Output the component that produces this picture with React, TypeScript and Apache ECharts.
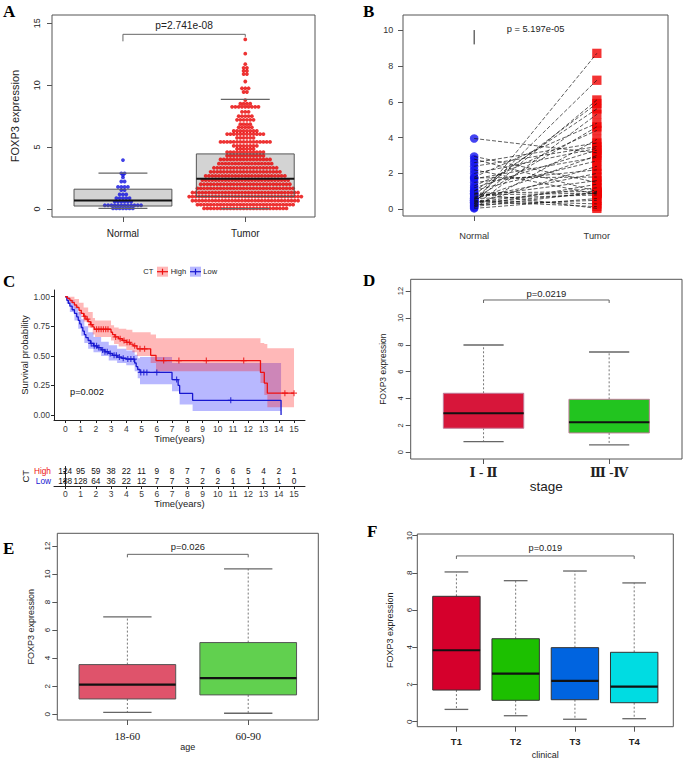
import React, { useEffect, useRef } from "react";
import * as echarts from "echarts";

const SANS = "Liberation Sans, Arial, Helvetica, sans-serif";
const SERIF = "Liberation Serif, DejaVu Serif, Noto Sans CJK SC, serif";

// ---------- A: FOXP3 expression, normal vs tumor (swarm rows as [value, count]) ----------
const groupsA = ["Normal", "Tumor"];
const normalRowsA: [number, number][] = [
  [0.05, 7], [0.3, 12], [0.6, 6], [0.88, 5], [1.18, 3], [1.53, 2], [1.78, 4],
  [2.22, 2], [2.55, 1], [2.75, 1], [2.88, 2], [3.95, 1],
];
const tumorRowsA: [number, number][] = [
  [0.05, 26], [0.35, 30], [0.67, 33], [1.0, 35], [1.33, 33], [1.67, 30], [2.0, 28],
  [2.34, 27], [2.67, 25], [3.0, 22], [3.33, 20], [3.66, 17], [4.0, 16], [4.3, 12],
  [4.6, 12], [4.85, 6], [5.1, 8], [5.42, 16], [5.75, 6], [6.05, 12], [6.3, 8],
  [6.6, 5], [6.85, 4], [7.2, 6], [7.5, 5], [7.85, 3], [8.25, 9], [8.5, 4], [8.8, 1],
  [9.45, 2], [9.75, 3], [10.3, 1], [10.9, 2], [11.15, 2], [11.4, 2], [11.7, 1],
  [12.55, 1], [13.7, 1],
];
// [whisker low, Q1, median, Q3, whisker high]
const boxStatsA = [
  [0.05, 0.24, 0.68, 1.6, 2.9],
  [0.03, 1.0, 2.45, 4.45, 8.85],
];
const yTicksA = [0, 5, 10, 15];
const pTextA = "p=2.741e-08";

// ---------- B: paired normal / tumor samples ----------
const groupsB = ["Normal", "Tumor"];
const pairedNormalB = [
  0.3, 0.5, 0.4, 0.8, 1.0, 0.2, 1.8, 0.6, 3.95, 2.8, 2.6, 2.4, 2.0, 1.7, 1.75, 1.5,
  1.2, 1.05, 0.9, 0.8, 0.7, 0.6, 0.5, 0.45, 0.4, 0.35, 0.3, 0.25, 0.2, 0.15, 0.1,
  0.05, 2.95, 2.2, 1.3, 0.55, 0.65, 0.9,
];
const pairedTumorB = [
  8.7, 7.2, 6.1, 5.9, 5.6, 5.3, 4.8, 4.6, 3.15, 1.0, 3.7, 3.5, 3.4, 2.9, 1.8, 2.2,
  3.3, 2.7, 1.0, 0.9, 1.6, 0.8, 0.3, 0.15, 1.2, 0.9, 2.4, 0.5, 1.4, 0.95, 3.9,
  0.6, 1.5, 0.85, 4.4, 3.0, 2.0, 0.05,
];
const yTicksB = [0, 2, 4, 6, 8, 10];
const pTextB = "p = 5.197e-05";

// ---------- C: Kaplan-Meier by CT level ----------
const kmHigh: [number, number][] = [
  [0, 1], [0.15, 0.985], [0.3, 0.97], [0.45, 0.95], [0.6, 0.93], [0.75, 0.91],
  [0.9, 0.885], [1.05, 0.86], [1.2, 0.835], [1.35, 0.81], [1.5, 0.79], [1.65, 0.765],
  [1.8, 0.745], [1.9, 0.725], [3.0, 0.7], [3.1, 0.68], [3.25, 0.66], [3.5, 0.645],
  [3.75, 0.63], [4.0, 0.615], [4.25, 0.6], [4.45, 0.585], [4.7, 0.56], [5.6, 0.505],
  [5.95, 0.46], [12.8, 0.36], [13.05, 0.27], [13.25, 0.185], [15, 0.185],
];
const kmLow: [number, number][] = [
  [0, 1], [0.1, 0.97], [0.2, 0.945], [0.3, 0.92], [0.45, 0.89], [0.6, 0.86],
  [0.75, 0.83], [0.85, 0.8], [0.95, 0.77], [1.05, 0.74], [1.15, 0.71], [1.25, 0.68],
  [1.35, 0.655], [1.5, 0.63], [1.65, 0.605], [1.85, 0.585], [2.1, 0.57], [2.35, 0.55],
  [2.6, 0.535], [2.85, 0.52], [3.1, 0.505], [3.4, 0.49], [3.7, 0.48], [4.0, 0.473],
  [4.55, 0.44], [4.65, 0.41], [4.75, 0.385], [4.9, 0.36], [7.0, 0.3], [7.4, 0.25],
  [7.5, 0.183], [8.35, 0.124], [14.15, 0.0],
];
// confidence bands: [time, lower, upper]
const bandHigh: [number, number, number][] = [
  [0, 1, 1], [0.3, 0.95, 1.0], [0.6, 0.9, 0.98], [0.9, 0.85, 0.95], [1.2, 0.79, 0.91],
  [1.5, 0.74, 0.87], [1.8, 0.68, 0.82], [1.95, 0.66, 0.8], [3.0, 0.63, 0.76],
  [3.2, 0.6, 0.74], [3.5, 0.58, 0.73], [4.0, 0.55, 0.72], [4.4, 0.53, 0.7],
  [4.7, 0.5, 0.7], [5.6, 0.44, 0.68], [5.95, 0.37, 0.65], [12.8, 0.27, 0.61],
  [13.05, 0.17, 0.6], [13.25, 0.065, 0.565],
];
const bandHighEnd = 15;
const bandLow: [number, number, number][] = [
  [0, 1, 1], [0.1, 0.94, 1.0], [0.3, 0.87, 0.97], [0.6, 0.8, 0.92], [0.85, 0.73, 0.87],
  [1.05, 0.67, 0.81], [1.25, 0.61, 0.75], [1.5, 0.56, 0.7], [1.85, 0.53, 0.66],
  [2.35, 0.5, 0.62], [2.85, 0.46, 0.59], [3.4, 0.44, 0.56], [4.0, 0.42, 0.545],
  [4.55, 0.37, 0.51], [4.75, 0.31, 0.48], [4.9, 0.26, 0.49], [7.0, 0.2, 0.44],
  [7.5, 0.09, 0.44], [8.35, 0.035, 0.44],
];
const bandLowEnd = 14.15;
const censorHigh = [
  1.25, 1.45, 1.7, 2.05, 2.2, 2.35, 2.5, 2.65, 2.8, 3.3, 3.6, 3.85, 4.05, 4.2, 4.55,
  4.9, 5.2, 6.45, 7.45, 9.25, 11.7, 14.4, 15.0,
];
const censorLow = [
  1.7, 1.9, 2.05, 2.2, 2.45, 2.6, 2.75, 2.95, 3.2, 3.35, 3.55, 3.8, 4.1, 4.3, 4.5,
  4.95, 5.15, 5.35, 6.0, 7.3, 10.85,
];
const years = [0, 1, 2, 3, 4, 5, 6, 7, 8, 9, 10, 11, 12, 13, 14, 15];
const riskHigh = [124, 95, 59, 38, 22, 11, 9, 8, 7, 7, 6, 6, 5, 4, 2, 1];
const riskLow = [188, 128, 64, 36, 22, 12, 7, 7, 3, 2, 2, 1, 1, 1, 1, 0];
const survTicks = [0, 0.25, 0.5, 0.75, 1];
const pTextC = "p=0.002";

// ---------- D: by stage ----------
const stagesD = ["Ⅰ - Ⅱ", "Ⅲ -Ⅳ"];
const boxStatsD = [
  [0.79, 1.79, 2.9, 4.39, 7.98],
  [0.55, 1.44, 2.23, 3.94, 7.46],
];
const yTicksD = [0, 2, 4, 6, 8, 10, 12];
const pTextD = "p=0.0219";

// ---------- E: by age ----------
const agesE = ["18-60", "60-90"];
const boxStatsE = [
  [0.14, 1.09, 2.11, 3.54, 6.94],
  [0.07, 1.38, 2.57, 5.11, 10.36],
];
const yTicksE = [0, 2, 4, 6, 8, 10, 12];
const pTextE = "p=0.026";

// ---------- F: by T stage ----------
const clinicalF = ["T1", "T2", "T3", "T4"];
const boxStatsF = [
  [0.66, 1.7, 3.84, 6.74, 8.05],
  [0.32, 1.15, 2.58, 4.46, 7.58],
  [0.13, 1.18, 2.19, 3.98, 8.1],
  [0.16, 1.02, 1.88, 3.73, 7.46],
];
const yTicksF = [0, 2, 4, 6, 8, 10];
const pTextF = "p=0.019";

const RED = "#EE1111";
const BLUE = "#1818D0";
const FRAME = "#555";

function swarm(rows: [number, number][], center: number, step: number) {
  const pts: number[][] = [];
  for (const [v, n] of rows) {
    for (let i = 0; i < n; i++) pts.push([center + (i - (n - 1) / 2) * step, v]);
  }
  return pts;
}

function stepAt(curve: [number, number][], t: number) {
  let v = curve[0][1];
  for (const [ti, si] of curve) {
    if (ti <= t) v = si;
    else break;
  }
  return v;
}

function seg(p1: number[], p2: number[], style: any) {
  return { type: "line", shape: { x1: p1[0], y1: p1[1], x2: p2[0], y2: p2[1] }, style };
}

type BoxStyle = {
  halfW: number;
  capHalf: number;
  fills: string[];
  border: string;
  borderW: number;
  whisker: boolean;
  medianW: number;
  part: "all" | "fill" | "lines";
};

function boxSeries(axis: number, stats: number[][], s: BoxStyle, z: number) {
  return {
    type: "custom",
    xAxisIndex: axis,
    yAxisIndex: axis,
    z,
    silent: true,
    data: stats.map((r, i) => [i + 1, ...r]),
    encode: { x: 0, y: [1, 2, 3, 4, 5] },
    renderItem: (params: any, api: any) => {
      const x = api.value(0);
      const lo = api.value(1), q1 = api.value(2), med = api.value(3), q3 = api.value(4), hi = api.value(5);
      const c = (a: number, b: number) => api.coord([a, b]);
      const kids: any[] = [];
      const tl = c(x - s.halfW, q3);
      const br = c(x + s.halfW, q1);
      if (s.part !== "lines") {
        kids.push({
          type: "rect",
          shape: { x: tl[0], y: tl[1], width: br[0] - tl[0], height: br[1] - tl[1] },
          style: { fill: s.fills[params.dataIndex], stroke: s.part === "all" ? s.border : "none", lineWidth: s.borderW },
        });
      }
      if (s.part !== "fill") {
        if (s.whisker) {
          const ws = { stroke: "#777", lineWidth: 1, lineDash: [2, 2] };
          kids.unshift(seg(c(x, q3), c(x, hi), ws), seg(c(x, q1), c(x, lo), ws));
        }
        const cs = { stroke: "#666", lineWidth: 1.3 };
        kids.push(seg(c(x - s.capHalf, hi), c(x + s.capHalf, hi), cs));
        kids.push(seg(c(x - s.capHalf, lo), c(x + s.capHalf, lo), cs));
        if (s.part === "lines") {
          kids.push({
            type: "rect",
            shape: { x: tl[0], y: tl[1], width: br[0] - tl[0], height: br[1] - tl[1] },
            style: { fill: "none", stroke: s.border, lineWidth: s.borderW },
          });
        }
        kids.push(seg(c(x - s.halfW, med), c(x + s.halfW, med), { stroke: "#111", lineWidth: s.medianW }));
      }
      return { type: "group", children: kids };
    },
  };
}

function bracketSeries(
  axis: number, x1: number, x2: number, y: number, textY: number, text: string,
  tickL: number, tickR: number, fontSize: number,
) {
  return {
    type: "custom",
    xAxisIndex: axis,
    yAxisIndex: axis,
    z: 6,
    silent: true,
    data: [[x1, x2, y, textY]],
    encode: { x: [0, 1], y: [2, 3] },
    renderItem: (params: any, api: any) => {
      const a = api.coord([api.value(0), api.value(2)]);
      const b = api.coord([api.value(1), api.value(2)]);
      const t = api.coord([(api.value(0) + api.value(1)) / 2, api.value(3)]);
      return {
        type: "group",
        children: [
          {
            type: "polyline",
            shape: { points: [[a[0], a[1] + tickL], a, b, [b[0], b[1] + tickR]] },
            style: { stroke: "#666", lineWidth: 1, fill: "none" },
          },
          {
            type: "text",
            x: t[0],
            y: t[1],
            style: { text, fontSize, fontFamily: SANS, fill: "#222", align: "center", verticalAlign: "middle" },
          },
        ],
      };
    },
  };
}

function bandSeries(band: [number, number, number][], tEnd: number, color: string) {
  return {
    type: "custom",
    xAxisIndex: 2,
    yAxisIndex: 2,
    z: 1,
    silent: true,
    data: band,
    encode: { x: 0, y: [1, 2] },
    renderItem: (params: any, api: any) => {
      if (params.dataIndex !== 0) return null;
      const upper: number[][] = [];
      const lower: number[][] = [];
      band.forEach((row, i) => {
        const t1 = i + 1 < band.length ? band[i + 1][0] : tEnd;
        upper.push(api.coord([row[0], row[2]]), api.coord([t1, row[2]]));
        lower.push(api.coord([row[0], row[1]]), api.coord([t1, row[1]]));
      });
      return { type: "polygon", shape: { points: upper.concat(lower.reverse()) }, style: { fill: color } };
    },
  };
}

// R-style axes (framed grid, outward ticks)
function rX(gridIndex: number, min: number, max: number, ticks: number[], names: string[], label: any, name: any) {
  return {
    type: "value",
    gridIndex,
    min,
    max,
    axisLine: { show: false, onZero: false },
    splitLine: { show: false },
    axisTick: { show: true, customValues: ticks, length: 5, lineStyle: { color: FRAME } },
    axisLabel: {
      show: true,
      customValues: names.map((_, i) => i + 1),
      formatter: (v: number) => names[Math.round(v) - 1] ?? "",
      color: "#222",
      fontFamily: SANS,
      ...label,
    },
    ...name,
  };
}

function rY(gridIndex: number, min: number, max: number, ticks: number[], label: any, name: any) {
  return {
    type: "value",
    gridIndex,
    min,
    max,
    axisLine: { show: false, onZero: false },
    splitLine: { show: false },
    axisTick: { show: true, customValues: ticks, length: 5, lineStyle: { color: FRAME } },
    axisLabel: { show: true, customValues: ticks, color: "#222", fontFamily: SANS, ...label },
    ...name,
  };
}

function yName(text: string, gap: number, size: number) {
  return {
    name: text,
    nameLocation: "middle",
    nameRotate: 90,
    nameGap: gap,
    nameTextStyle: { fontSize: size, color: "#222", fontFamily: SANS },
  };
}

function xName(text: string, gap: number, size: number) {
  return {
    name: text,
    nameLocation: "middle",
    nameGap: gap,
    nameTextStyle: { fontSize: size, color: "#222", fontFamily: SANS },
  };
}

function kmAxisX(gridIndex: number, margin: number) {
  return {
    type: "value",
    gridIndex,
    min: -0.74,
    max: 15.72,
    axisLine: { show: true, onZero: false, lineStyle: { color: "#222", width: 1 } },
    splitLine: { show: false },
    axisTick: { show: true, customValues: years, length: 3, lineStyle: { color: "#222" } },
    axisLabel: { show: true, customValues: years, margin, fontSize: 8.5, color: "#3a3a3a", fontFamily: SANS },
    ...xName("Time(years)", 12.5, 9.5),
  };
}

function letter(text: string, x: number, y: number) {
  return {
    type: "text",
    x,
    y,
    style: {
      text,
      fontSize: 17,
      fontWeight: "bold",
      fontFamily: SERIF,
      fill: "#000",
      align: "left",
      verticalAlign: "middle",
    },
  };
}

function legendKey(x: number, color: string, fill: string) {
  const cy = 271.7;
  return [
    { type: "rect", shape: { x, y: cy - 5, width: 11, height: 10 }, style: { fill } },
    { type: "line", shape: { x1: x, y1: cy, x2: x + 11, y2: cy }, style: { stroke: color, lineWidth: 1.2 } },
    { type: "line", shape: { x1: x + 5.5, y1: cy - 3, x2: x + 5.5, y2: cy + 3 }, style: { stroke: color, lineWidth: 1.2 } },
  ];
}

function legendText(text: string, x: number) {
  return {
    type: "text",
    x,
    y: 271.7,
    style: { text, fontSize: 7.5, fontFamily: SANS, fill: "#222", align: "left", verticalAlign: "middle" },
  };
}

function buildOption() {
  const grids = [
    { left: 52, top: 15, width: 263, height: 202 }, // A
    { left: 403, top: 15, width: 265, height: 201 }, // B
    { left: 54, top: 290, width: 251, height: 130 }, // C curves
    { left: 54, top: 466.5, width: 251, height: 19.5 }, // C risk table
    { left: 410.7, top: 279.3, width: 271.3, height: 179.7 }, // D
    { left: 57.3, top: 533.3, width: 261, height: 186.7 }, // E
    { left: 417.3, top: 534, width: 256, height: 192.7 }, // F
  ].map((g, i) => ({
    ...g,
    show: i !== 2 && i !== 3,
    borderColor: FRAME,
    borderWidth: 1,
    backgroundColor: "transparent",
  }));

  const xAxis = [
    rX(0, 0.42, 2.57, [1, 2], groupsA, { margin: 11, fontSize: 10 }, {}),
    rX(1, 0.42, 2.58, [1], groupsB, { margin: 15, fontSize: 9.3, color: "#333" }, {}),
    kmAxisX(2, 4),
    kmAxisX(3, 3),
    rX(4, 0.42, 2.58, [1, 2], stagesD, { margin: 6.5, fontSize: 13, fontWeight: "bold", fontFamily: SERIF }, xName("stage", 14, 13.5)),
    rX(5, 0.42, 2.58, [1, 2], agesE, { margin: 10.5, fontSize: 11, fontFamily: SERIF }, xName("age", 22, 9)),
    rX(6, 0.34, 4.66, [1, 2, 3, 4], clinicalF, { margin: 10, fontSize: 9.5, fontWeight: "bold" }, xName("clinical", 24, 9)),
  ];

  const yAxis = [
    rY(0, -0.646, 15.67, yTicksA, { rotate: 90, margin: 11, fontSize: 9 }, yName("FOXP3 expression", 32, 11)),
    rY(1, -0.374, 10.84, yTicksB, { margin: 9.7, fontSize: 9, color: "#333" }, {}),
    {
      type: "value",
      gridIndex: 2,
      min: -0.042,
      max: 1.057,
      axisLine: { show: true, onZero: false, lineStyle: { color: "#222", width: 1 } },
      splitLine: { show: false },
      axisTick: { show: true, customValues: survTicks, length: 3, lineStyle: { color: "#222" } },
      axisLabel: {
        show: true,
        customValues: survTicks,
        formatter: (v: number) => v.toFixed(2),
        margin: 4,
        fontSize: 8.5,
        color: "#3a3a3a",
        fontFamily: SANS,
      },
      ...yName("Survival probability", 21, 9.5),
    },
    {
      type: "category",
      gridIndex: 3,
      data: ["Low", "High"],
      axisLine: { show: true, lineStyle: { color: "#222", width: 1 } },
      axisTick: { show: true, alignWithLabel: true, interval: 0, length: 2, lineStyle: { color: "#222" } },
      axisLabel: {
        interval: 0,
        margin: 3,
        fontSize: 8.3,
        fontFamily: SANS,
        color: (v: string) => (v === "High" ? RED : BLUE),
      },
      ...yName("CT", 24, 9.5),
    },
    rY(4, -0.5, 12.87, yTicksD, { rotate: 90, margin: 6, fontSize: 7.5 }, yName("FOXP3 expression", 23.5, 8.5)),
    rY(5, -0.41, 12.9, yTicksE, { rotate: 90, margin: 5.7, fontSize: 8 }, yName("FOXP3 expression", 22, 9)),
    rY(6, -0.27, 10.09, yTicksF, { rotate: 90, margin: 4, fontSize: 8 }, yName("FOXP3 expression", 22.8, 9)),
  ];

  const plus = "path://M4,0H6V4H10V6H6V10H4V6H0V4H4Z";
  const stepA = 3.3 / (263 / 2.15);

  const series: any[] = [
    // ----- A -----
    boxSeries(0, boxStatsA, { halfW: 0.4, capHalf: 0.2, fills: ["#D3D3D3", "#D3D3D3"], border: FRAME, borderW: 1, whisker: false, medianW: 2, part: "fill" }, 1),
    {
      type: "scatter",
      xAxisIndex: 0,
      yAxisIndex: 0,
      z: 2,
      silent: true,
      symbol: "circle",
      symbolSize: 3.8,
      itemStyle: { color: "#1010E0" },
      data: swarm(normalRowsA, 1, stepA),
    },
    {
      type: "scatter",
      xAxisIndex: 0,
      yAxisIndex: 0,
      z: 2,
      silent: true,
      symbol: "circle",
      symbolSize: 3.8,
      itemStyle: { color: "#E80000" },
      data: swarm(tumorRowsA, 2, stepA),
    },
    boxSeries(0, boxStatsA, { halfW: 0.4, capHalf: 0.2, fills: [], border: FRAME, borderW: 1, whisker: false, medianW: 2, part: "lines" }, 4),
    bracketSeries(0, 1, 2, 14.11, 14.86, pTextA, 7, 2.5, 10.2),

    // ----- B -----
    {
      type: "scatter",
      xAxisIndex: 1,
      yAxisIndex: 1,
      z: 2,
      silent: true,
      symbol: "rect",
      symbolSize: 9.3,
      itemStyle: { color: "#F00000" },
      data: pairedTumorB.map((v) => [2, v]),
    },
    {
      type: "scatter",
      xAxisIndex: 1,
      yAxisIndex: 1,
      z: 2,
      silent: true,
      symbol: "circle",
      symbolSize: 8.5,
      itemStyle: { color: "#1414EE" },
      data: pairedNormalB.map((v) => [1, v]),
    },
    {
      type: "custom",
      xAxisIndex: 1,
      yAxisIndex: 1,
      z: 3,
      silent: true,
      data: pairedNormalB.map((v, i) => [v, pairedTumorB[i]]),
      encode: { y: [0, 1] },
      renderItem: (params: any, api: any) =>
        seg(api.coord([1, api.value(0)]), api.coord([2, api.value(1)]), {
          stroke: "#111",
          lineWidth: 0.8,
          lineDash: [4, 2],
          opacity: 0.85,
        }),
    },
    {
      type: "custom",
      xAxisIndex: 1,
      yAxisIndex: 1,
      z: 3,
      silent: true,
      data: [[1, 9.2, 10.0, 1.5, 10.04]],
      encode: { x: [0, 3], y: [1, 2, 4] },
      renderItem: (params: any, api: any) => {
        const t = api.coord([api.value(3), api.value(4)]);
        return {
          type: "group",
          children: [
            seg(api.coord([api.value(0), api.value(1)]), api.coord([api.value(0), api.value(2)]), { stroke: "#222", lineWidth: 1 }),
            {
              type: "text",
              x: t[0],
              y: t[1],
              style: { text: pTextB, fontSize: 9.3, fontFamily: SANS, fill: "#222", align: "center", verticalAlign: "middle" },
            },
          ],
        };
      },
    },

    // ----- C -----
    bandSeries(bandLow, bandLowEnd, "rgba(20,20,255,0.3)"),
    bandSeries(bandHigh, bandHighEnd, "rgba(255,20,20,0.3)"),
    {
      type: "line",
      xAxisIndex: 2,
      yAxisIndex: 2,
      z: 3,
      step: "end",
      showSymbol: false,
      silent: true,
      lineStyle: { color: BLUE, width: 1.3 },
      data: kmLow,
    },
    {
      type: "line",
      xAxisIndex: 2,
      yAxisIndex: 2,
      z: 3,
      step: "end",
      showSymbol: false,
      silent: true,
      lineStyle: { color: RED, width: 1.3 },
      data: kmHigh,
    },
    {
      type: "scatter",
      xAxisIndex: 2,
      yAxisIndex: 2,
      z: 4,
      silent: true,
      symbol: plus,
      symbolSize: 6,
      itemStyle: { color: BLUE },
      data: censorLow.map((t) => [t, stepAt(kmLow, t)]),
    },
    {
      type: "scatter",
      xAxisIndex: 2,
      yAxisIndex: 2,
      z: 4,
      silent: true,
      symbol: plus,
      symbolSize: 6,
      itemStyle: { color: RED },
      data: censorHigh.map((t) => [t, stepAt(kmHigh, t)]),
    },
    {
      type: "custom",
      xAxisIndex: 2,
      yAxisIndex: 2,
      z: 5,
      silent: true,
      data: [[0.31, 0.197]],
      encode: { x: 0, y: 1 },
      renderItem: (params: any, api: any) => {
        const p = api.coord([api.value(0), api.value(1)]);
        return {
          type: "text",
          x: p[0],
          y: p[1],
          style: { text: pTextC, fontSize: 9.3, fontFamily: SANS, fill: "#111", align: "left", verticalAlign: "middle" },
        };
      },
    },
    {
      type: "custom",
      xAxisIndex: 3,
      yAxisIndex: 3,
      silent: true,
      data: years.map((t, i) => [t, 1, riskHigh[i]]).concat(years.map((t, i) => [t, 0, riskLow[i]])),
      encode: { x: 0, y: 1 },
      renderItem: (params: any, api: any) => {
        const p = api.coord([api.value(0), api.value(1)]);
        return {
          type: "text",
          x: p[0],
          y: p[1],
          style: {
            text: String(api.value(2)),
            fontSize: 8.3,
            fontFamily: SANS,
            fill: "#111",
            align: "center",
            verticalAlign: "middle",
          },
        };
      },
    },

    // ----- D -----
    boxSeries(4, boxStatsD, { halfW: 0.32, capHalf: 0.16, fills: ["#D7163A", "#22C41F"], border: "#C07A98", borderW: 1, whisker: true, medianW: 2, part: "all" }, 2),
    bracketSeries(4, 1, 2, 11.33, 11.85, pTextD, 3, 3, 9.5),

    // ----- E -----
    boxSeries(5, boxStatsE, { halfW: 0.4, capHalf: 0.2, fills: ["#DF536B", "#61D04F"], border: "#555", borderW: 1, whisker: true, medianW: 2.2, part: "all" }, 2),
    bracketSeries(5, 1, 2, 11.4, 11.95, pTextE, 3, 3, 9.4),

    // ----- F -----
    boxSeries(6, boxStatsF, { halfW: 0.4, capHalf: 0.2, fills: ["#D5002C", "#1CC000", "#0064E0", "#00DCE2"], border: "#333", borderW: 1, whisker: true, medianW: 2.2, part: "all" }, 2),
    bracketSeries(6, 1, 4, 8.91, 9.32, pTextF, 3, 3, 9.2),
  ];

  const graphic = {
    elements: [
      letter("A", 3, 11.5),
      letter("B", 363, 11),
      letter("C", 3, 281.5),
      letter("D", 363, 280),
      letter("E", 3, 548.5),
      letter("F", 367, 531),
      {
        type: "text",
        x: 148.3,
        y: 271.7,
        style: { text: "CT", fontSize: 7.5, fontFamily: SANS, fill: "#222", align: "center", verticalAlign: "middle" },
      },
      ...legendKey(157, RED, "rgba(255,20,20,0.3)"),
      legendText("High", 170.7),
      ...legendKey(190, BLUE, "rgba(20,20,255,0.3)"),
      legendText("Low", 203.3),
    ],
  };

  return {
    animation: false,
    backgroundColor: "#fff",
    textStyle: { fontFamily: SANS },
    grid: grids,
    xAxis,
    yAxis,
    series,
    graphic,
  };
}

export default function App() {
  const ref = useRef<HTMLDivElement>(null);
  useEffect(() => {
    document.body.style.margin = "0";
    const chart = echarts.init(ref.current as HTMLDivElement, null, { renderer: "svg" });
    chart.setOption(buildOption() as any);
    return () => chart.dispose();
  }, []);
  return <div ref={ref} style={{ width: 685, height: 761 }} />;
}
